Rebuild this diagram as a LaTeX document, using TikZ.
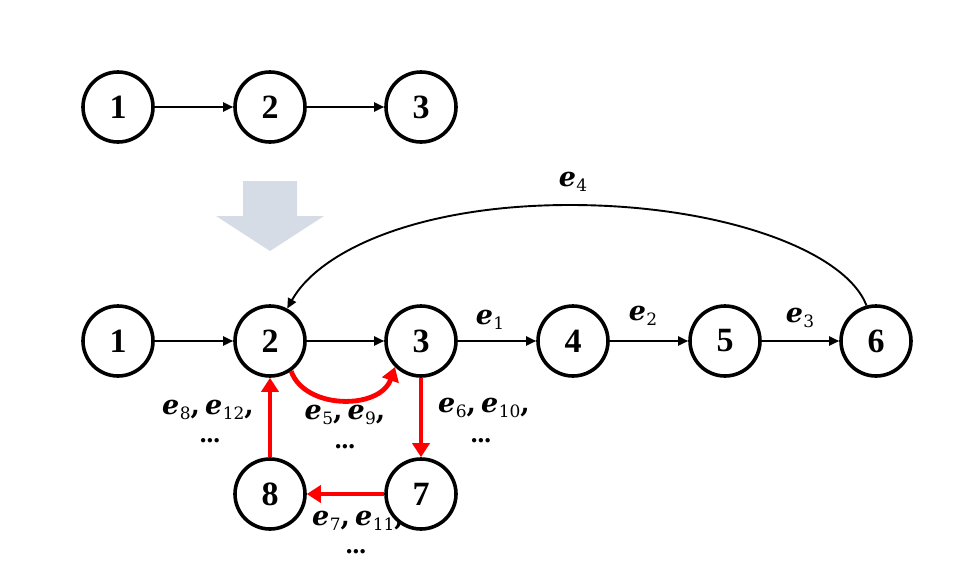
\documentclass[tikz,border=0pt]{standalone}
\usepackage{graphicx}
\usepackage{fontspec}
\setmainfont{Liberation Serif}
\newfontfamily\dvs{DejaVu Serif}
\usetikzlibrary{arrows.meta}
\newcommand{\ev}[1]{{\dvs\bfseries\itshape e}\kern0.5pt\raisebox{-4.5pt}{\fontsize{17}{19}\selectfont\dvs #1}}
\newcommand{\cm}{{\dvs\bfseries,}\hspace{5pt}}
\begin{document}
\begin{tikzpicture}[x=1pt,y=-1pt,
  vtx/.style={circle,draw,line width=3.6pt,minimum size=70pt,inner sep=0pt,font=\fontsize{34}{38}\selectfont\bfseries},
  blk/.style={line width=1.9pt,-{Triangle[length=10pt,width=9pt]}},
  red/.style={draw=red,line width=4.8pt,-{Triangle[length=14pt,width=17pt]}},
  lab/.style={inner sep=0pt,font=\fontsize{27}{30}\selectfont}]
\useasboundingbox (0,0) rectangle (978,584);
% top row
\node[vtx] (t1) at (118,107) {1};
\node[vtx] (t2) at (270,107) {2};
\node[vtx] (t3) at (421,107) {3};
\draw[blk] (t1) -- (t2);
\draw[blk] (t2) -- (t3);
% big arrow
\fill[fill={rgb,255:red,214;green,220;blue,229}] (243,181) -- (297,181) -- (297,216) -- (324,216) -- (270,251) -- (216,216) -- (243,216) -- cycle;
% bottom row
\node[vtx] (b1) at (118,341) {1};
\node[vtx] (b2) at (270,341) {2};
\node[vtx] (b3) at (421,341) {3};
\node[vtx] (b4) at (573,341) {4};
\node[vtx] (b5) at (725,341) {5};
\node[vtx] (b6) at (876,341) {6};
\node[vtx] (b8) at (270,494) {8};
\node[vtx] (b7) at (421,494) {7};
\draw[blk] (b1) -- (b2);
\draw[blk] (b2) -- (b3);
\draw[blk] (b3) -- (b4);
\draw[blk] (b4) -- (b5);
\draw[blk] (b5) -- (b6);
\draw[blk] (b6.105) .. controls (845,250) and (720,205) .. (570,205) .. controls (420,205) and (320,250) .. (b2.62);
% red
\draw[red] (b2.-55) .. controls (305,410) and (380,410) .. (b3.-135);
\draw[red] (b3) -- (b7);
\draw[red] (b7) -- (b8);
\draw[red] (b8) -- (b2);
% labels
\node[lab] (l1) at (490,320) {\ev{1}};
\node[lab] (l2) at (643,316) {\ev{2}};
\node[lab] (l3) at (800,318) {\ev{3}};
\node[lab] (l4) at (573,182) {\ev{4}};
\node[lab,anchor=east] (l8) at (254,410) {\ev{8}\cm\ev{12}{\dvs\bfseries,}};
\node[lab] (l8d) at (210,441) {\textbf{...}};
\node[lab] (l5) at (345,415) {\ev{5}\cm\ev{9}{\dvs\bfseries,}};
\node[lab] (l5d) at (345,447) {\textbf{...}};
\node[lab,anchor=west] (l6) at (438,408) {\ev{6}\cm\ev{10}{\dvs\bfseries,}};
\node[lab] (l6d) at (481,441) {\textbf{...}};
\node[lab] (l7) at (358,521) {\ev{7}\cm\ev{11}{\dvs\bfseries,}};
\node[lab] (l7d) at (356,552) {\textbf{...}};
\end{tikzpicture}
\end{document}
